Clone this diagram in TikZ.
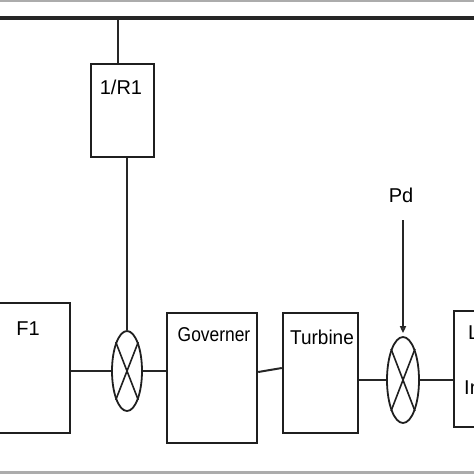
\documentclass[tikz,border=0pt]{standalone}
\usepackage{fontspec}
\setmainfont{Liberation Sans}
\usetikzlibrary{arrows.meta,shapes.geometric}

\tikzset{
  blk/.style={draw=black!88, line width=2.4pt, inner sep=0pt},
  sumj/.style={draw=black!88, ellipse, line width=1.8pt, inner sep=0pt},
  lbl/.style={font=\fontsize{20}{24}\selectfont, inner sep=0pt},
  wire/.style={draw=black!85, line width=2.6pt}
}

\begin{document}
\begin{tikzpicture}[x=1pt, y=-1pt]
  \useasboundingbox (0,0) rectangle (474,474);
  \clip (0,0) rectangle (474,474);
  % frame lines
  \draw[gray!65, line width=2pt] (0,1) -- (474,1);
  \draw[gray!65, line width=3pt] (0,472.5) -- (474,472.5);

  % blocks
  \node[blk, minimum width=63pt, minimum height=93pt] (r1) at (122.5,110.5) {};
  \node[blk, minimum width=90pt, minimum height=130pt] (f1) at (25,368) {};
  \node[blk, minimum width=90pt, minimum height=130pt] (gov) at (212,378) {};
  \node[blk, minimum width=75pt, minimum height=120pt] (tur) at (320.5,373) {};
  \node[blk, minimum width=90pt, minimum height=116pt] (load) at (499,369) {};

  % summing junctions
  \node[sumj, minimum width=30pt, minimum height=80pt] (s1) at (127,371) {};
  \node[sumj, minimum width=32pt, minimum height=86pt] (s2) at (403,380) {};
  \draw[black!88, line width=1.6pt] (s1.north west) -- (s1.south east) (s1.north east) -- (s1.south west);
  \draw[black!88, line width=1.6pt] (s2.north west) -- (s2.south east) (s2.north east) -- (s2.south west);

  % texts
  \node[lbl] (r1lbl) at (121,87) {1/R1};
  \node[lbl] (f1lbl) at (28,329) {F1};
  \node[lbl] (govlbl) at (214,335) {\scalebox{0.87}[1]{Governer}};
  \node[lbl] (turlbl) at (322,337) {\scalebox{0.95}[1]{Turbine}};
  \node[lbl, anchor=west] (loadlbl) at (468,333) {L};
  \node[lbl, anchor=west] (inlbl) at (464,388) {In};
  \node[lbl] (pd) at (401,195) {Pd};

  % connections
  \coordinate (busL) at (0,18);
  \coordinate (busR) at (474,18);
  \coordinate (pdin) at (403,220);
  \draw[wire, line width=3.2pt] (busL) -- (busR);
  \draw[wire] ([xshift=-4.5pt]r1.north) -- ([xshift=-4.5pt]r1.north |- busL);
  \draw[wire] (s1.north) -- (s1.north |- r1.south);
  \draw[wire] (s1.west) -- (s1.west -| f1.east);
  \draw[wire] (s1.east) -- (s1.east -| gov.west);
  \draw[wire, line width=2pt] ([yshift=6pt]gov.east) -- ([yshift=5pt]tur.west);
  \draw[wire] (s2.west) -- (s2.west -| tur.east);
  \draw[wire] (s2.east) -- (s2.east -| load.west);
  \draw[wire, line width=1.8pt, -{Triangle[open, length=7pt, width=6pt]}, shorten >=3pt] (pdin) -- (s2.north);
\end{tikzpicture}
\end{document}
